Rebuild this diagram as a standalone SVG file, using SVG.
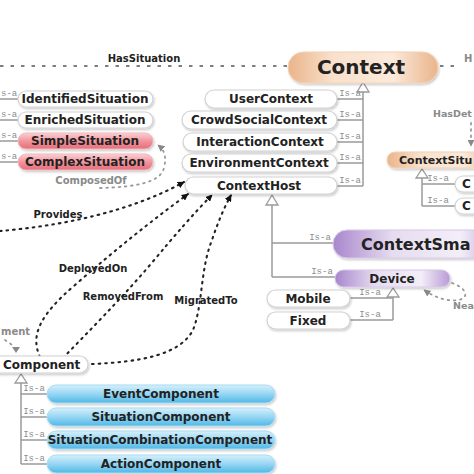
<svg xmlns="http://www.w3.org/2000/svg" width="474" height="474" viewBox="0 0 474 474">
<style>
.bg{fill:#fff}
.n{font-family:"DejaVu Sans",Verdana,sans-serif;font-weight:bold;font-size:12px;fill:#222;text-anchor:middle}
.rel{font-family:"DejaVu Sans",Verdana,sans-serif;font-weight:bold;font-size:10px;fill:#222;text-anchor:middle}
.grel{font-family:"DejaVu Sans",Verdana,sans-serif;font-weight:bold;font-size:10px;fill:#8a8a8a;text-anchor:middle}
.isa{font-family:"Liberation Mono","DejaVu Sans Mono",monospace;font-size:9px;fill:#8c8c8c;text-anchor:middle}
.pw{fill:#fff;stroke:#d2d2d2;stroke-width:1.2;filter:url(#sh)}
.pr{fill:url(#gr);stroke:#f0b8bc;stroke-width:1;filter:url(#sh)}
.pb{fill:url(#gb);stroke:#a9dcf2;stroke-width:1;filter:url(#sh)}
.pp{fill:url(#gp);stroke:#d8c8e8;stroke-width:1;filter:url(#sh)}
.po{fill:url(#go);stroke:#f2d2b6;stroke-width:1;filter:url(#sh)}
.il{fill:none;stroke:#9a9a9a;stroke-width:1.5}
.tri{fill:#fff;stroke:#9a9a9a;stroke-width:1.3}
.dot{fill:none;stroke:#222;stroke-width:2.1;stroke-dasharray:1.6 5;stroke-linecap:round}
.gdot{fill:none;stroke:#999;stroke-width:1.8;stroke-dasharray:1.6 4.6;stroke-linecap:round}
.dash{fill:none;stroke:#555;stroke-width:1.6;stroke-dasharray:3.5 7}
</style>
<defs>
<filter id="sh" x="-10%" y="-30%" width="120%" height="170%">
<feDropShadow dx="1" dy="1.5" stdDeviation="1" flood-color="#000" flood-opacity="0.22"/>
</filter>
<linearGradient id="gr" x1="0" y1="0" x2="0" y2="1"><stop offset="0" stop-color="#fbd0d4"/><stop offset="0.5" stop-color="#f1949c"/><stop offset="1" stop-color="#e66e7a"/></linearGradient>
<linearGradient id="gb" x1="0" y1="0" x2="0" y2="1"><stop offset="0" stop-color="#d6f0fb"/><stop offset="0.55" stop-color="#8fd3f2"/><stop offset="1" stop-color="#4fb8e6"/></linearGradient>
<linearGradient id="gp" x1="0" y1="0" x2="1" y2="0"><stop offset="0" stop-color="#a886cc"/><stop offset="0.35" stop-color="#e6dcf0"/><stop offset="0.75" stop-color="#f3eef8"/><stop offset="1" stop-color="#b89ad6"/></linearGradient>
<linearGradient id="go" x1="0" y1="0" x2="1" y2="0"><stop offset="0" stop-color="#eab48a"/><stop offset="0.3" stop-color="#f9e1cc"/><stop offset="0.7" stop-color="#fbe9da"/><stop offset="1" stop-color="#eab48a"/></linearGradient>
<marker id="ah" viewBox="0 0 10 10" refX="9" refY="5" markerWidth="7" markerHeight="7" orient="auto" markerUnits="userSpaceOnUse"><path d="M0,0 L10,5 L0,10 z" fill="#111"/></marker>
<marker id="ahg" viewBox="0 0 10 10" refX="9" refY="5" markerWidth="7" markerHeight="7" orient="auto" markerUnits="userSpaceOnUse"><path d="M0,0 L10,5 L0,10 z" fill="#888"/></marker>
</defs>
<rect class="bg" x="0" y="0" width="474" height="474"/>

<g id="connectors">
<!-- HasSituation -->
<path class="dash" d="M0,66 H288"/>
<text class="rel" x="144" y="62">HasSituation</text>
<path class="dash" d="M440,66 H460"/>
<text class="grel" x="464" y="62" style="text-anchor:start">H</text>
<!-- HasDet -->
<text class="grel" x="433" y="117" style="text-anchor:start;font-size:9.5px">HasDet</text>
<path class="gdot" d="M471,123 V146" marker-end="url(#ahg)"/>
<!-- Context is-a tree -->
<path class="il" d="M363,92 V186 M337,99 H363 M337,120 H363 M337,142 H363 M337,163 H363 M337,186 H363"/>
<path class="tri" d="M363,82 L357,92 L369,92 Z"/>
<text class="isa" x="350" y="96">Is-a</text>
<text class="isa" x="350" y="117">Is-a</text>
<text class="isa" x="350" y="139">Is-a</text>
<text class="isa" x="350" y="160">Is-a</text>
<text class="isa" x="350" y="183">Is-a</text>
<!-- Situation is-a (left, cropped) -->
<path class="il" d="M0,99 H18 M0,120 H18 M0,141 H18 M0,162 H18"/>
<text class="isa" x="1" y="96" style="text-anchor:start">s-a</text>
<text class="isa" x="1" y="117" style="text-anchor:start">s-a</text>
<text class="isa" x="1" y="138" style="text-anchor:start">s-a</text>
<text class="isa" x="1" y="159" style="text-anchor:start">s-a</text>
<!-- ComposedOf -->
<path class="gdot" d="M100,188 C135,187 160,183 164,168 C167,156 164,150 158,145" marker-end="url(#ahg)"/>
<text class="grel" x="91" y="184">ComposedOf</text>
<!-- Provides -->
<path class="dot" d="M0,231 C60,226 130,212 184,182" marker-end="url(#ah)"/>
<text class="rel" x="58" y="218">Provides</text>
<!-- DeployedOn -->
<path class="dot" d="M40,357 C30,335 40,315 75,285 C115,250 150,222 188,194" marker-end="url(#ah)"/>
<text class="rel" x="93" y="272">DeployedOn</text>
<!-- RemovedFrom -->
<path class="dot" d="M63,358 C90,330 120,300 150,265 C175,235 195,212 212,195" marker-end="url(#ah)"/>
<text class="rel" x="123" y="300">RemovedFrom</text>
<!-- MigratedTo -->
<path class="dot" d="M92,364 C140,362 180,355 193,330 C203,305 200,270 212,240 C218,222 224,208 231,195" marker-end="url(#ah)"/>
<text class="rel" x="206" y="304">MigratedTo</text>
<!-- left cropped relation -->
<text class="grel" x="1" y="335" style="text-anchor:start">ment</text>
<path class="gdot" d="M5,340 L15,347"/>
<path d="M12,347 L20,347 L16,353 Z" fill="#888"/>
<!-- ContextHost is-a tree -->
<path class="il" d="M272,205 V277 M272,243 H334 M272,277 H336"/>
<path class="tri" d="M272,195 L266,205 L278,205 Z"/>
<text class="isa" x="320" y="240">Is-a</text>
<text class="isa" x="322" y="274">Is-a</text>
<!-- Device is-a tree -->
<path class="il" d="M393,297 V320 M350,298 H393 M350,320 H393"/>
<path class="tri" d="M393,288 L387,297 L399,297 Z"/>
<text class="isa" x="370" y="295">Is-a</text>
<text class="isa" x="370" y="317">Is-a</text>
<!-- Near -->
<path class="gdot" d="M452,283 C466,288 470,297 459,300 C447,302 434,297 424,290" marker-end="url(#ahg)"/>
<text class="grel" x="453" y="309" style="text-anchor:start;font-size:9.5px">Nea</text>
<!-- ContextSituation is-a tree -->
<path class="il" d="M422,178 V206 M422,184 H455 M422,206 H455"/>
<path class="tri" d="M422,169 L416,178 L428,178 Z"/>
<text class="isa" x="438" y="181">Is-a</text>
<text class="isa" x="438" y="203">Is-a</text>
<!-- Component is-a tree -->
<path class="il" d="M21,383 V464 M21,394 H47 M21,417 H47 M21,440 H47 M21,464 H47"/>
<path class="tri" d="M21,374 L15,383 L27,383 Z"/>
<text class="isa" x="34" y="391">Is-a</text>
<text class="isa" x="34" y="414">Is-a</text>
<text class="isa" x="34" y="437">Is-a</text>
<text class="isa" x="34" y="461">Is-a</text>
</g>

<g id="Context"><rect class="po" x="288" y="52" width="150" height="31" rx="15.5"/><text class="n" x="361" y="74" style="font-size:20px">Context</text></g>
<g id="UserContext"><rect class="pw" x="205" y="90" width="132" height="18" rx="9"/><text class="n" x="271" y="103">UserContext</text></g>
<g id="CrowdSocialContext"><rect class="pw" x="182" y="111" width="155" height="18" rx="9"/><text class="n" x="259" y="124">CrowdSocialContext</text></g>
<g id="InteractionContext"><rect class="pw" x="183" y="133" width="154" height="18" rx="9"/><text class="n" x="260" y="146">InteractionContext</text></g>
<g id="EnvironmentContext"><rect class="pw" x="182" y="154" width="155" height="18" rx="9"/><text class="n" x="259" y="167">EnvironmentContext</text></g>
<g id="ContextHost"><rect class="pw" x="185" y="177" width="152" height="17" rx="8.5"/><text class="n" x="259" y="190">ContextHost</text></g>

<g id="IdentifiedSituation"><rect class="pw" x="18" y="91" width="135" height="16" rx="8"/><text class="n" x="85" y="103">IdentifiedSituation</text></g>
<g id="EnrichedSituation"><rect class="pw" x="18" y="112" width="135" height="16" rx="8"/><text class="n" x="85" y="124">EnrichedSituation</text></g>
<g id="SimpleSituation"><rect class="pr" x="18" y="133" width="135" height="16" rx="8"/><text class="n" x="85" y="145">SimpleSituation</text></g>
<g id="ComplexSituation"><rect class="pr" x="18" y="154" width="135" height="16" rx="8"/><text class="n" x="85" y="166">ComplexSituation</text></g>

<g id="ContextSituation"><rect class="po" x="387" y="152" width="110" height="16" rx="8"/><text class="n" x="399" y="164" style="text-anchor:start;font-size:11px">ContextSitu</text></g>
<g id="ContextSituationChild1"><rect class="pw" x="455" y="176" width="40" height="16" rx="8"/><text class="n" x="462" y="188" style="text-anchor:start">C</text></g>
<g id="ContextSituationChild2"><rect class="pw" x="455" y="198" width="40" height="16" rx="8"/><text class="n" x="462" y="210" style="text-anchor:start">C</text></g>

<g id="ContextSmart"><rect class="pp" x="333" y="230" width="170" height="28" rx="14"/><text class="n" x="361" y="250" style="text-anchor:start;font-size:16px">ContextSma</text></g>
<g id="Device"><rect class="pp" x="335" y="270" width="115" height="17" rx="8.5"/><text class="n" x="392" y="283">Device</text></g>
<g id="Mobile"><rect class="pw" x="267" y="290" width="83" height="17" rx="8.5"/><text class="n" x="308" y="303">Mobile</text></g>
<g id="Fixed"><rect class="pw" x="267" y="312" width="83" height="17" rx="8.5"/><text class="n" x="308" y="325">Fixed</text></g>

<g id="Component"><rect class="pw" x="-10" y="356" width="98" height="17" rx="8.5"/><text class="n" x="3" y="369" style="text-anchor:start">Component</text></g>
<g id="EventComponent"><rect class="pb" x="47" y="385" width="228" height="18" rx="9"/><text class="n" x="161" y="398">EventComponent</text></g>
<g id="SituationComponent"><rect class="pb" x="47" y="408" width="228" height="18" rx="9"/><text class="n" x="161" y="421">SituationComponent</text></g>
<g id="SituationCombinationComponent"><rect class="pb" x="47" y="431" width="228" height="18" rx="9"/><text class="n" x="160" y="444">SituationCombinationComponent</text></g>
<g id="ActionComponent"><rect class="pb" x="47" y="455" width="228" height="18" rx="9"/><text class="n" x="161" y="468">ActionComponent</text></g>
</svg>
